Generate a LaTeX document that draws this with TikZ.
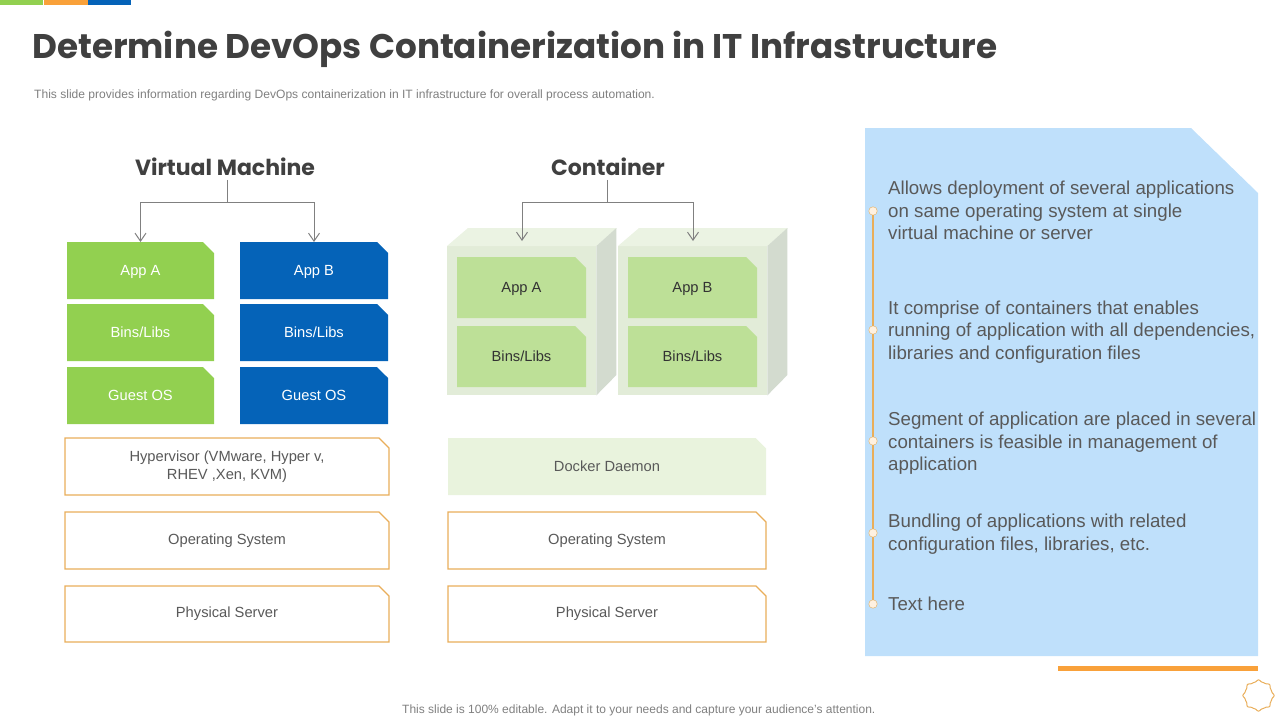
\documentclass[tikz,border=0pt]{standalone}
\usepackage{fontspec}
\setmainfont{Liberation Sans}
\newfontfamily\headfont{Poppins}
\usetikzlibrary{arrows.meta,positioning,calc,shapes.misc}

\definecolor{leaf}{HTML}{92D050}
\definecolor{deep}{HTML}{0563B8}
\definecolor{amber}{HTML}{F9A13A}
\definecolor{rim}{HTML}{E9AE5A}
\definecolor{sky}{HTML}{BFE0FB}
\definecolor{ink}{HTML}{404040}
\definecolor{soft}{HTML}{595959}
\definecolor{pale}{HTML}{BDE097}
\definecolor{front}{HTML}{E2ECD8}
\definecolor{lid}{HTML}{EBF3E3}
\definecolor{flank}{HTML}{D3DBCF}
\definecolor{daemon}{HTML}{E9F3DD}

\begin{document}
\begin{tikzpicture}[
  x=1pt,y=-1pt,
  >={Straight Barb[length=8pt,width=11pt]},
  snip/.style={chamfered rectangle,chamfered rectangle corners=north east,
               chamfered rectangle xsep=6pt,chamfered rectangle ysep=5pt,
               inner sep=0pt,outer sep=0pt,align=center,
               font=\fontsize{14.7}{18}\selectfont},
  appgreen/.style={snip,fill=leaf,text=white,text height=10.5pt,text depth=1.5pt,minimum width=147pt,minimum height=57pt},
  appblue/.style={snip,fill=deep,text=white,text height=10.5pt,text depth=1.5pt,minimum width=148pt,minimum height=57pt},
  layer/.style={snip,draw=rim,fill=white,text=soft,line width=1.2pt,chamfered rectangle ysep=4pt},
  innerbox/.style={snip,fill=pale,text=ink!80!black,text height=10.5pt,text depth=1.5pt,minimum width=129pt,minimum height=61pt},
  head/.style={font=\headfont\bfseries\fontsize{22}{26}\selectfont,text=ink,inner sep=0pt,outer ysep=4pt},
  flow/.style={->,draw=black!50,line width=1pt},
  bullet/.style={circle,draw=rim,fill=white!85!amber,minimum size=8.5pt,inner sep=0pt},
  point/.style={anchor=west,align=left,text=soft,inner sep=0pt,
                font=\fontsize{18.7}{22.5}\selectfont},
  note/.style={font=\fontsize{12.06}{14}\selectfont,text=black!50,inner sep=0pt},
]
\useasboundingbox (0,0) rectangle (1280,720);

% ---- top bars and title -------------------------------------------------
\node[fill=leaf,minimum width=43pt,minimum height=5pt,inner sep=0pt,anchor=north west] (barG) at (0,0) {};
\node[fill=amber,minimum width=44pt,minimum height=5pt,inner sep=0pt,right=0pt of barG] (barO) {};
\node[fill=deep,minimum width=43pt,minimum height=5pt,inner sep=0pt,right=0pt of barO] (barB) {};

\node[font=\headfont\bfseries\fontsize{34.2}{40}\selectfont,text=ink,inner sep=0pt,anchor=west] (title) at (32,49)
   {Determine DevOps Containerization in IT Infrastructure};
\node[note,anchor=west] (sub) at (34,95.5)
   {This slide provides information regarding DevOps containerization in IT infrastructure for overall process automation.};

% ---- virtual machine column ----------------------------------------------
\node[head] (vmT) at (225,167) {Virtual Machine};

\node[appgreen,anchor=north west] (vmA) at (67,242) {App A};
\node[appgreen,below=5pt of vmA] (vmL) {Bins/Libs};
\node[appgreen,below=6pt of vmL] (vmO) {Guest OS};

\node[appblue,anchor=north west] (vbA) at (240,242) {App B};
\node[appblue,below=5pt of vbA] (vbL) {Bins/Libs};
\node[appblue,below=6pt of vbL] (vbO) {Guest OS};

\node[layer,minimum width=324pt,minimum height=57pt,anchor=north west] (hyp) at (65,438)
   {Hypervisor (VMware, Hyper v,\\RHEV ,Xen, KVM)};
\node[layer,minimum width=324pt,minimum height=57pt,below=17pt of hyp] (vmOS) {Operating System};
\node[layer,minimum width=324pt,minimum height=56pt,below=17pt of vmOS] (vmPS) {Physical Server};

\coordinate (vmJ) at (227,202);
\draw[flow] (vmT.south -| vmJ) -- (vmJ) -| (vmA.north);
\draw[flow] (vmJ) -| (vbA.north);

% ---- container column ----------------------------------------------------
\node[head] (cT) at (608,167) {Container};

% cube fronts, the top and side faces hang off their corners
\node[fill=front,minimum width=149pt,minimum height=149pt,inner sep=0pt,anchor=north west] (boxA) at (447,246) {};
\node[fill=front,minimum width=149pt,minimum height=149pt,inner sep=0pt,anchor=north west] (boxB) at (618,246) {};
\foreach \b in {boxA,boxB}{
  \fill[lid] (\b.north west) -- ++(21,-18) -- ++(149,0) -- (\b.north east) -- cycle;
  \fill[flank] (\b.north east) -- ++(20,-18) -- ++(0,147) -- (\b.south east) -- cycle;
}

\node[innerbox,anchor=north west] (cA) at (457,257) {App A};
\node[innerbox,below=8pt of cA] (cAL) {Bins/Libs};
\node[innerbox,anchor=north west] (cB) at (628,257) {App B};
\node[innerbox,below=8pt of cB] (cBL) {Bins/Libs};

\node[snip,fill=daemon,text=soft,minimum width=318pt,minimum height=57pt,anchor=north west] (dock) at (448,438) {Docker Daemon};
\node[layer,minimum width=318pt,minimum height=57pt,below=17pt of dock] (cOS) {Operating System};
\node[layer,minimum width=318pt,minimum height=56pt,below=17pt of cOS] (cPS) {Physical Server};

\coordinate (cJ) at (607,202);
\coordinate (cEndA) at (522,241);
\coordinate (cEndB) at (693,241);
\draw[flow] (cT.south -| cJ) -- (cJ) -| (cEndA);
\draw[flow] (cJ) -| (cEndB);

% ---- right panel ---------------------------------------------------------
\fill[sky] (865,128) -- (1191,128) -- (1258,193) -- (1258,656) -- (865,656) -- cycle;

\node[bullet] (d1) at (873,211) {};
\node[bullet] (d2) at (873,330) {};
\node[bullet] (d3) at (873,441) {};
\node[bullet] (d4) at (873,533) {};
\node[bullet] (d5) at (873,604) {};
\draw[rim,line width=1.6pt] (d1) -- (d2);
\draw[rim,line width=1.6pt] (d2) -- (d3);
\draw[rim,line width=1.6pt] (d3) -- (d4);
\draw[rim,line width=1.6pt] (d4) -- (d5);

\node[point] (p1) at (888,210.5) {Allows deployment of several applications\\on same operating system at single\\virtual machine or server};
\node[point] (p2) at (888,332) {It comprise of containers that enables\\running of application with all dependencies,\\libraries and configuration files};
\node[point] (p3) at (888,443.5) {Segment of application are placed in several\\containers is feasible in management of\\application};
\node[point] (p4) at (888,534) {Bundling of applications with related\\configuration files, libraries, etc.};
\node[point] (p5) at (888,604) {Text here};

% ---- footer --------------------------------------------------------------
\node[fill=amber,minimum width=200pt,minimum height=5pt,inner sep=0pt,anchor=north west] (rule) at (1058,666) {};
\node[note,font=\fontsize{12}{14}\selectfont,anchor=west] (foot) at (402,710)
   {This slide is 100\% editable. Adapt it to your needs and capture your audience's attention.};
\draw[rim,line width=1pt,shift={(1258.5,695.5)}]
   plot[domain=0:357.5,samples=144] ({(13.8+1.8*(.5+.5*cos(8*\x))^3)*cos(\x)},{(13.8+1.8*(.5+.5*cos(8*\x))^3)*sin(\x)}) -- cycle;

\end{tikzpicture}
\end{document}
